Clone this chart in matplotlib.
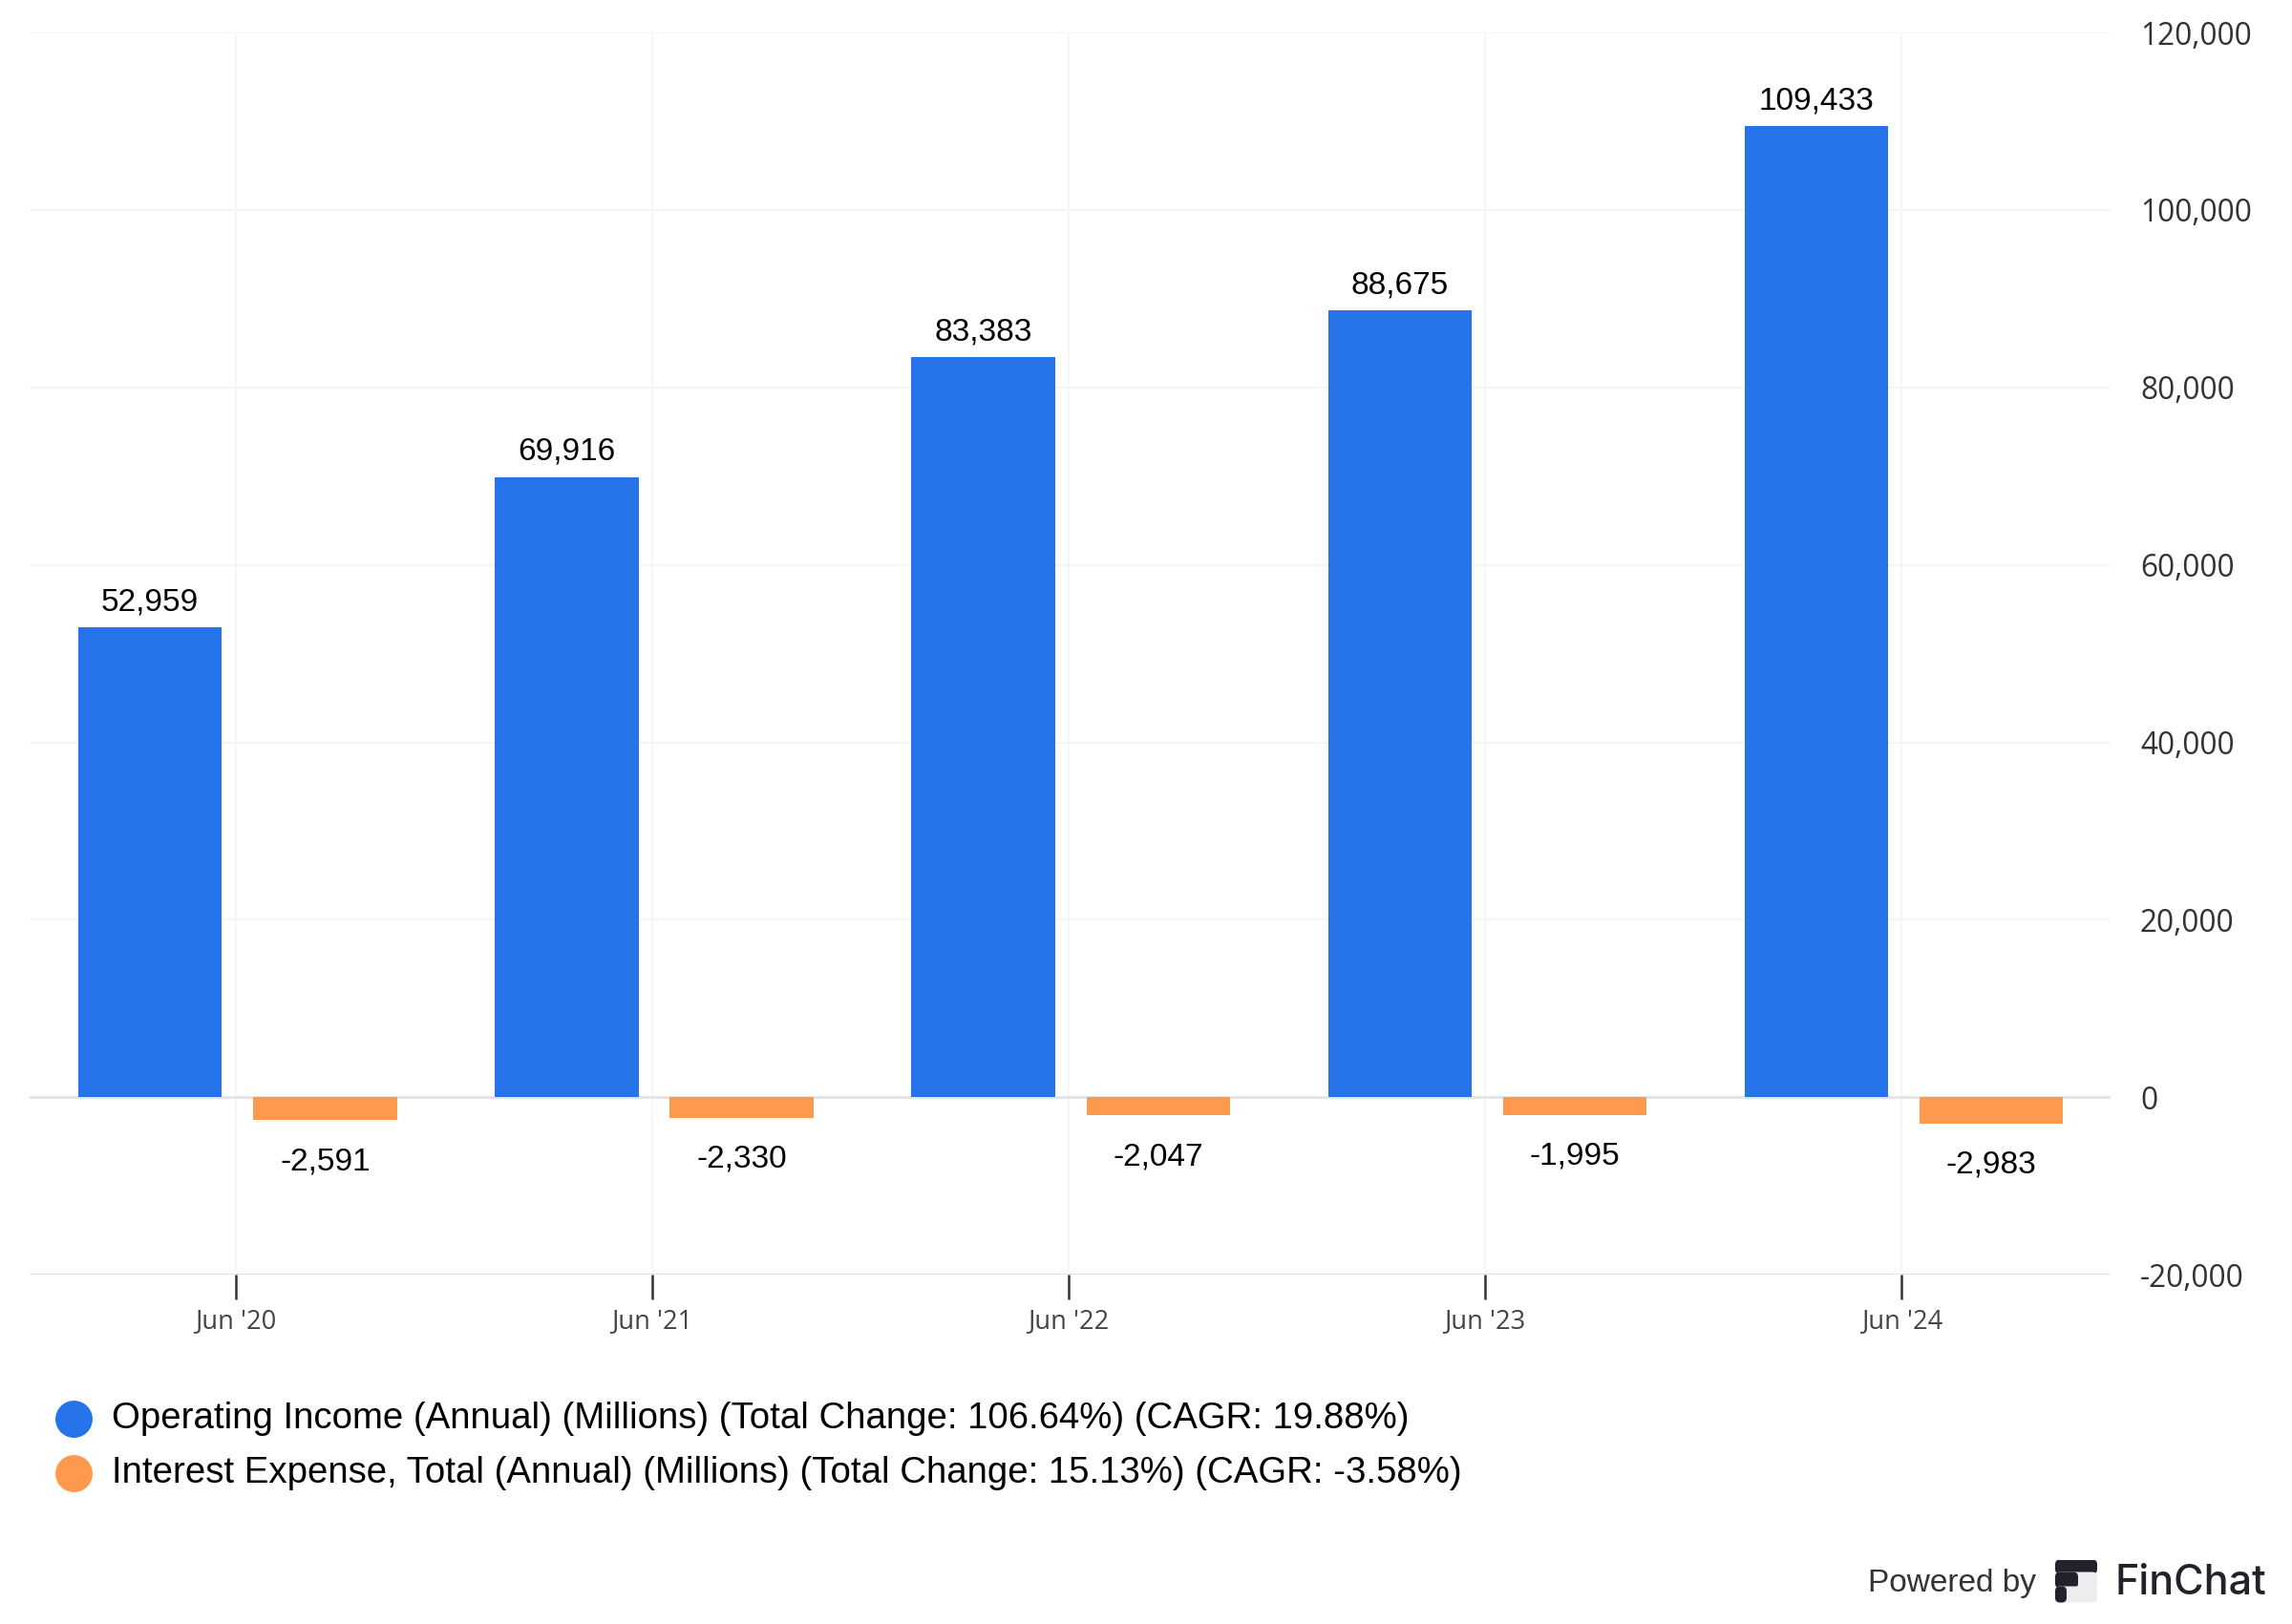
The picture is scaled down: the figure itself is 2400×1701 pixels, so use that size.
import matplotlib
matplotlib.use("Agg")
import matplotlib.pyplot as plt
from matplotlib.lines import Line2D
from matplotlib.patches import FancyBboxPatch
import numpy as np

# data
periods = ["Jun '20", "Jun '21", "Jun '22", "Jun '23", "Jun '24"]
operating_income = [52959, 69916, 83383, 88675, 109433]
interest_expense = [-2591, -2330, -2047, -1995, -2983]
legend_labels = [
    "Operating Income (Annual) (Millions) (Total Change: 106.64%) (CAGR: 19.88%)",
    "Interest Expense, Total (Annual) (Millions) (Total Change: 15.13%) (CAGR: -3.58%)",
]
y_ticks = [-20000, 0, 20000, 40000, 60000, 80000, 100000, 120000]

blue = "#2773E9"
orange = "#FF994D"
label_font = "Liberation Sans"
axis_font = "Open Sans"

fig = plt.figure(figsize=(12, 8.505), dpi=200)
ax = fig.add_axes([0.0128, 0.215, 0.9082, 0.765])

x = np.arange(len(periods))
width = 0.345
ax.bar(x - 0.205, operating_income, width, color=blue, zorder=3)
ax.bar(x + 0.215, interest_expense, width, color=orange, zorder=3)

# value labels
for xi, v in zip(x, operating_income):
    ax.annotate(f"{v:,}", (xi - 0.205, v), xytext=(0, 4), textcoords="offset points",
                ha="center", va="bottom", fontsize=12, family=label_font, color="black")
for xi, v in zip(x, interest_expense):
    ax.annotate(f"{v:,}", (xi + 0.215, v), xytext=(0, -10), textcoords="offset points",
                ha="center", va="top", fontsize=12, family=label_font, color="black")

ax.set_xlim(-0.495, 4.502)
ax.set_ylim(-20000, 120000)
ax.set_yticks(y_ticks)
ax.set_yticklabels([f"{t:,}" for t in y_ticks], family=axis_font, fontsize=11.4, color="#333333")
ax.yaxis.tick_right()
ax.tick_params(axis="y", length=0, pad=11)

ax.set_xticks(x)
ax.set_xticklabels(periods, family=axis_font, fontsize=9.8, color="#444444")
ax.tick_params(axis="x", length=9.5, width=0.9, color="#333333", pad=3)

for s in ax.spines.values():
    s.set_visible(False)

# grid
for t in y_ticks:
    if t == 0:
        ax.axhline(t, color="#E2E2E2", lw=1.0, zorder=2)
    elif t == -20000:
        ax.axhline(t, color="#DDDDDD", lw=1.0, zorder=2)
    else:
        ax.axhline(t, color="#F3F3F3", lw=0.6, zorder=1)
for xi in x:
    ax.axvline(xi, color="#F5F5F5", lw=0.6, zorder=1)

# legend
leg_y = [1 - 1486 / 1701, 1 - 1543 / 1701]
for yy, lab, c in zip(leg_y, legend_labels, [blue, orange]):
    fig.add_artist(Line2D([77 / 2400], [yy], marker="o", markersize=13, color=c,
                          transform=fig.transFigure))
    fig.text(117 / 2400, yy, lab, fontsize=13.8, family=label_font, color="black",
             va="center", ha="left")

# footer
fy = 1 - 1658 / 1701
fig.text(2132 / 2400, fy, "Powered by", fontsize=12, family=label_font, color="#333333",
         ha="right", va="center")
fig.text(2215 / 2400, fy, "FinChat", fontsize=15.5, family="Inter", color="#22222A",
         ha="left", va="center", fontweight="medium")

lax = fig.add_axes([2150 / 2400, 1 - 1684 / 1701, 50 / 2400, 50 / 1701])
lax.set_xlim(0, 50)
lax.set_ylim(0, 50)
lax.axis("off")
dark = "#22222A"
light = "#EDEDEF"
bars = [(38, 48, [(2, 46, dark)]),
       (23, 35, [(2, 46, light), (2, 26, dark)]),
       (8, 20, [(2, 46, light), (2, 14, dark)])]
for y0, y1, parts in bars:
    for x0, x1, c in parts:
        lax.add_patch(FancyBboxPatch((x0 + 3, y0 + 0.5), x1 - x0 - 6, y1 - y0 - 1,
                                     boxstyle="round,pad=3,rounding_size=5",
                                     fc=c, ec="none"))

fig.savefig("out.png", dpi=200, facecolor="white")
